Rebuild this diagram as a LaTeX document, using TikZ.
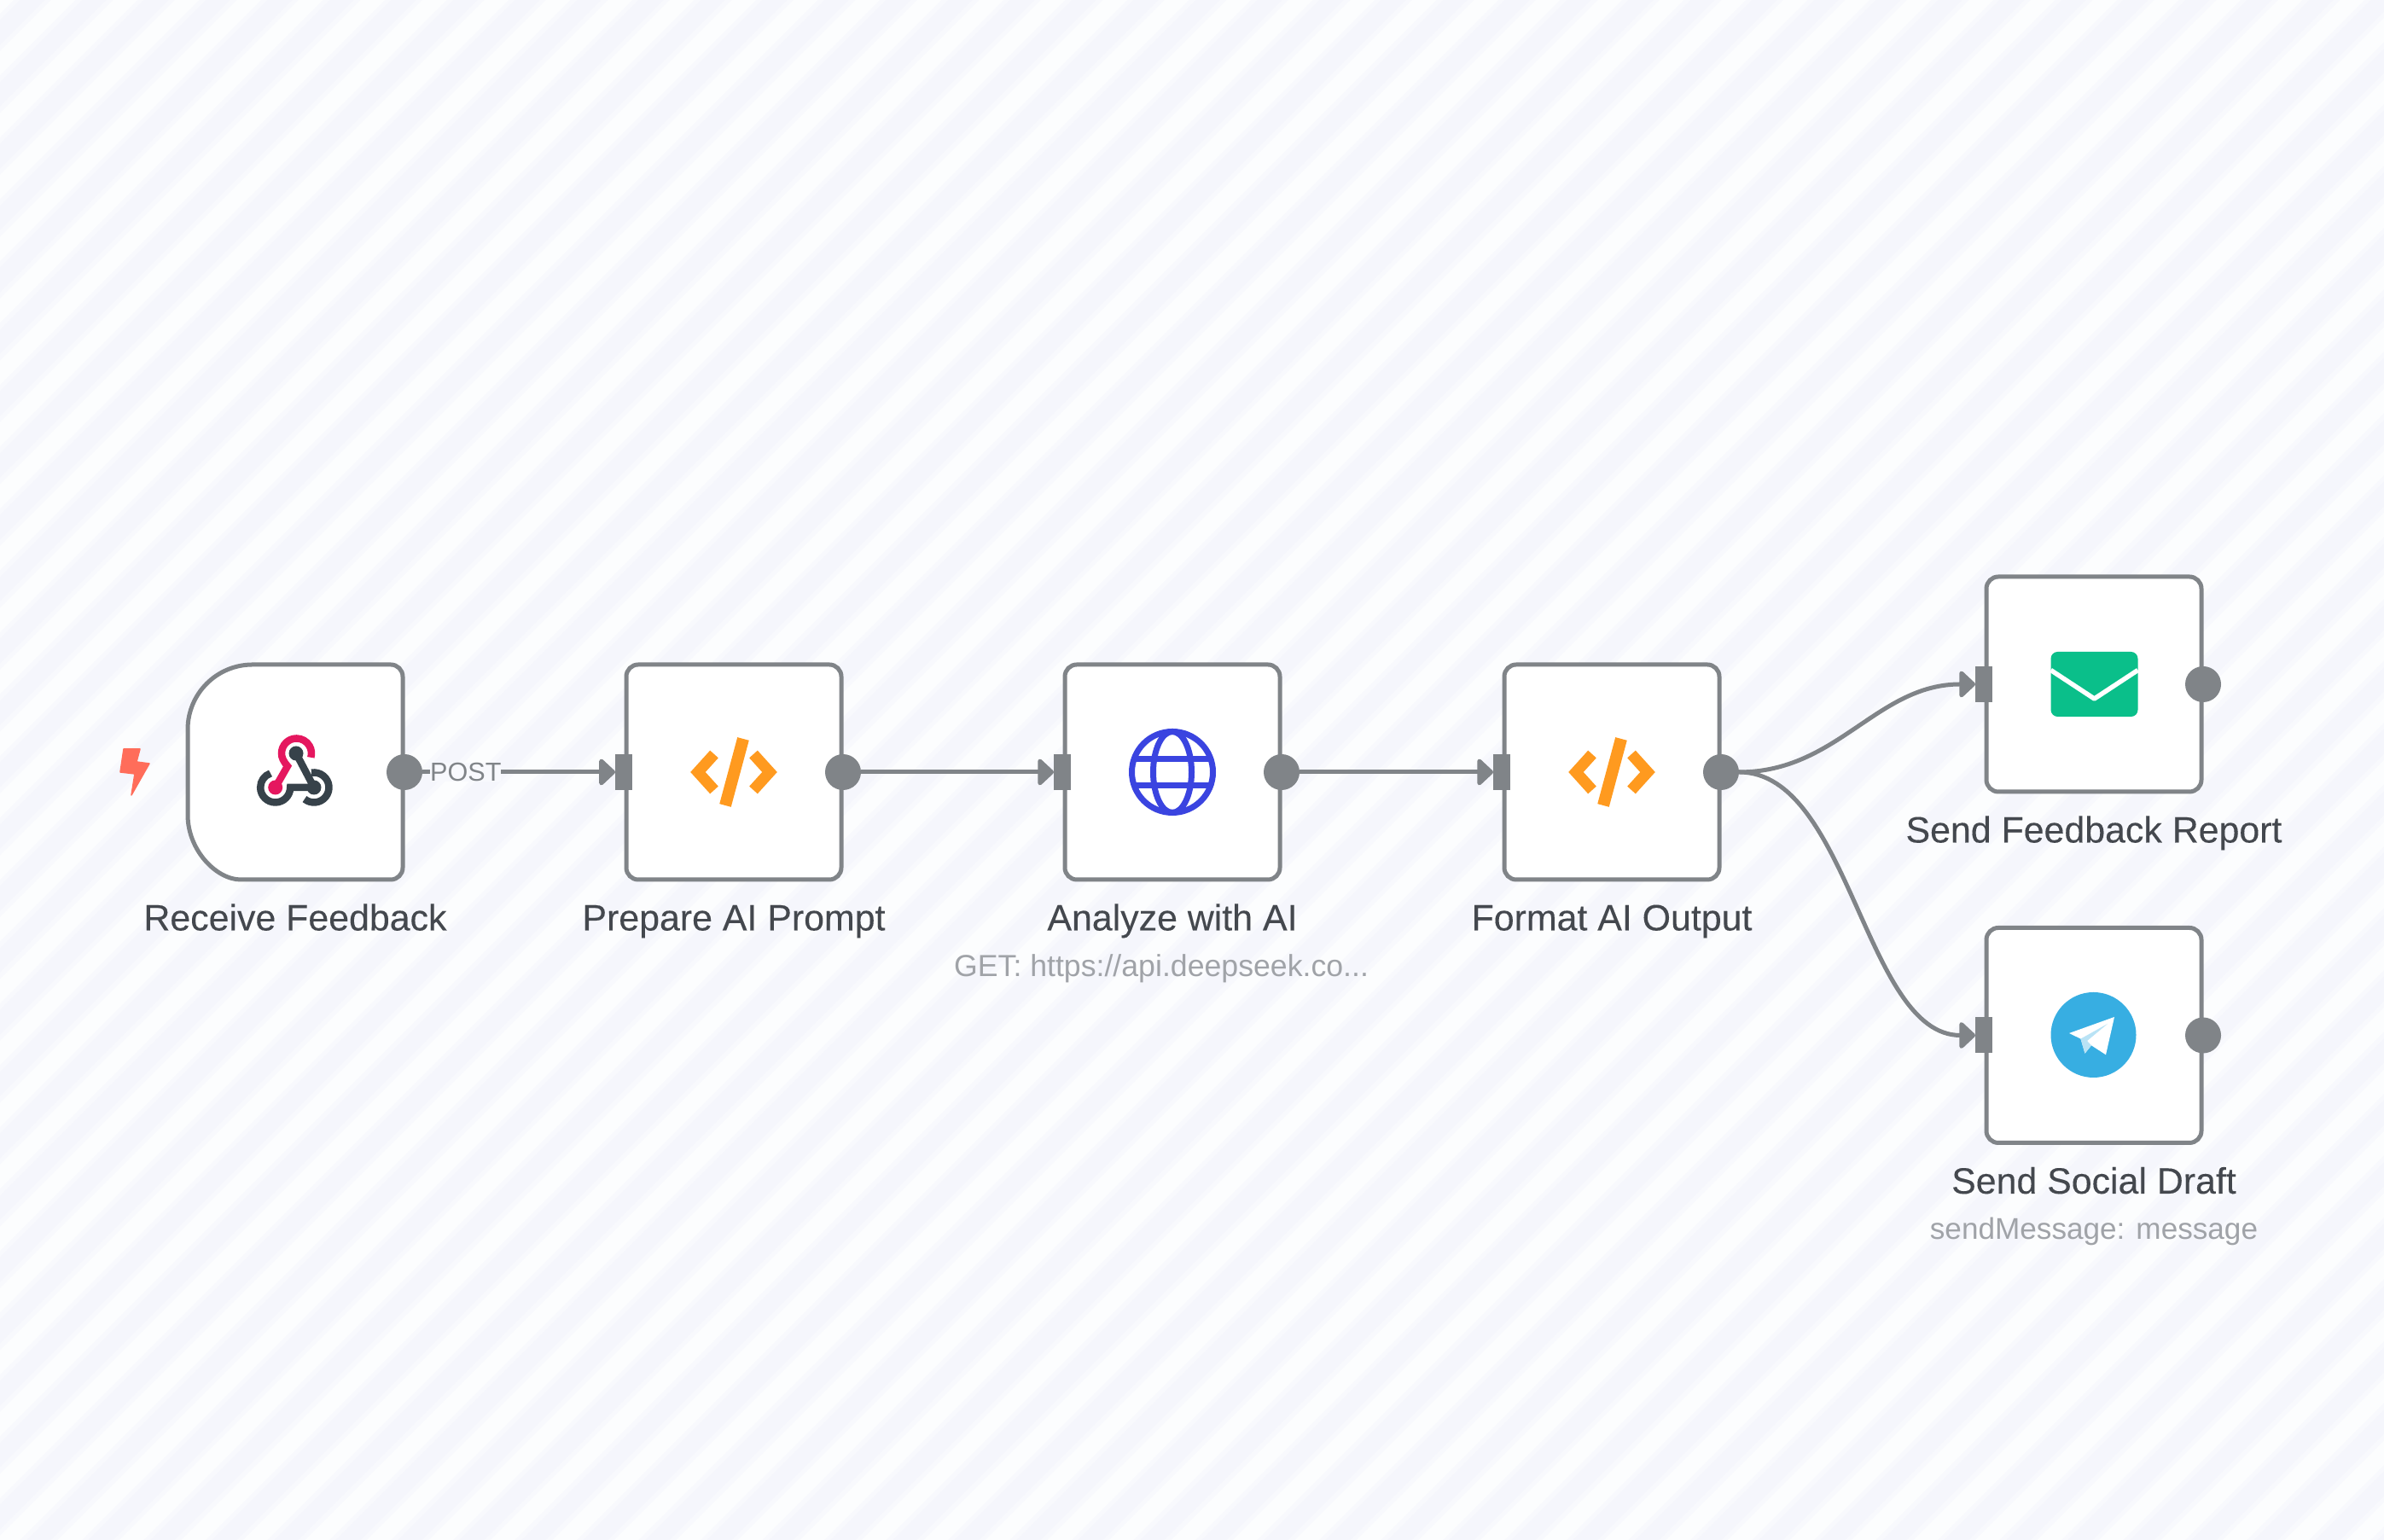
\documentclass[tikz,border=0pt]{standalone}
\usepackage{fontspec}
\setmainfont{Liberation Sans}
\newfontfamily\namefont[FakeBold=0.15]{Liberation Sans}
\usetikzlibrary{arrows.meta}
\definecolor{canvas}{HTML}{FCFDFE}
\definecolor{stripesoft}{HTML}{F8F9FD}
\definecolor{stripe}{HTML}{F5F6FC}
\definecolor{rim}{HTML}{808488}
\definecolor{title}{HTML}{44484E}
\definecolor{subtitle}{HTML}{A0A3A8}
\definecolor{codeorange}{HTML}{FF9A1F}
\definecolor{hookpink}{HTML}{E5175F}
\definecolor{hookdark}{HTML}{37424A}
\definecolor{boltred}{HTML}{FF6D5A}
\definecolor{globeblue}{HTML}{3A44E0}
\definecolor{mailgreen}{HTML}{0ABF8A}
\definecolor{planeblue}{HTML}{37AEE2}
\tikzset{
  nodebox/.style={shape=rectangle,draw=rim,fill=white,line width=.05cm,rounded corners=.14cm,minimum size=2.52cm,inner sep=0pt,outer sep=0pt},
  blankbox/.style={shape=rectangle,minimum size=2.52cm,inner sep=0pt,outer sep=0pt},
  outdot/.style={shape=circle,fill=rim,minimum size=.42cm,inner sep=0pt,outer sep=0pt},
  inport/.style={shape=rectangle,fill=rim,minimum width=.2cm,minimum height=.42cm,inner sep=0pt,outer sep=0pt},
  wire/.style={draw=rim,line width=.05cm,-{Triangle[length=.2cm,width=.36cm,round]}},
  nametext/.style={anchor=base,text=title,font=\namefont\fontsize{12.2pt}{14pt}\selectfont},
  subtext/.style={anchor=base,text=subtitle,font=\fontsize{10.15pt}{12pt}\selectfont},
  wiretext/.style={fill=stripesoft,text=rim,inner sep=0pt,font=\fontsize{8.7pt}{10pt}\selectfont},
  codeline/.style={draw=codeorange,line width=.13cm,line join=miter},
  hookline/.style={line width=.085cm}
}
\begin{document}
\begin{tikzpicture}
\useasboundingbox (0,0) rectangle (27.94,18.05);
% background
\fill[canvas] (0,0) rectangle (27.94,18.05);
\begin{scope}
\clip (0,0) rectangle (27.94,18.05);
\foreach \x in {.38,1.105,...,46.6} {
  \draw[stripesoft,line width=.31cm] (\x+1,19.05) -- (\x-19.05,-1);
  \draw[stripe,line width=.2cm] (\x+1,19.05) -- (\x-19.05,-1);
}
\end{scope}
% boxes
\node[blankbox] at (3.46,9) (n1) {};
\draw[draw=rim,fill=white,line width=.05cm] (n1.east) [rounded corners=.14cm] -- (n1.south east) -- ([xshift=.76cm]n1.south west) [sharp corners] arc[start angle=270,end angle=180,radius=.76cm] -- ([yshift=-.76cm]n1.north west) arc[start angle=180,end angle=90,radius=.76cm] [rounded corners=.14cm] -- (n1.north east) -- cycle;
\node[nodebox] at (8.6,9) (n2) {};
\node[nodebox] at (13.74,9) (n3) {};
\node[nodebox] at (18.89,9) (n4) {};
\node[nodebox] at (24.54,10.03) (n5) {};
\node[nodebox] at (24.54,5.915) (n6) {};
% ports
\node[outdot] at ([xshift=.02cm]n1.east) (o1) {};
\node[outdot] at ([xshift=.02cm]n2.east) (o2) {};
\node[outdot] at ([xshift=.02cm]n3.east) (o3) {};
\node[outdot] at ([xshift=.02cm]n4.east) (o4) {};
\node[outdot] at ([xshift=.02cm]n5.east) (o5) {};
\node[outdot] at ([xshift=.02cm]n6.east) (o6) {};
\node[inport] at ([xshift=-.03cm]n2.west) (i2) {};
\node[inport] at ([xshift=-.03cm]n3.west) (i3) {};
\node[inport] at ([xshift=-.03cm]n4.west) (i4) {};
\node[inport] at ([xshift=-.03cm]n5.west) (i5) {};
\node[inport] at ([xshift=-.03cm]n6.west) (i6) {};
% wires
\draw[wire] (o1) -- node[wiretext,pos=.225] (post) {POST} (i2);
\draw[wire] (o2) -- (i3);
\draw[wire] (o3) -- (i4);
\draw[wire] (o4) to [out=0,in=180] (i5);
\draw[wire] (o4) to [out=0,in=180,looseness=.8] (i6);
% labels
\node[nametext] at (3.46,7.145) (t1) {Receive Feedback};
\node[nametext] at (8.6,7.145) (t2) {Prepare AI Prompt};
\node[nametext] at (13.74,7.145) (t3) {Analyze with AI};
\node[nametext] at (18.89,7.145) (t4) {Format AI Output};
\node[nametext] at (24.54,8.175) (t5) {Send Feedback Report};
\node[nametext] at (24.54,4.06) (t6) {Send Social Draft};
\node[subtext] at (13.61,6.605) (s3) {GET: https://api.deepseek.co...};
\node[subtext,font=\fontsize{10pt}{12pt}\selectfont] at (24.54,3.525) (s6) {sendMessage: message};
% trigger bolt
\fill[boltred,draw=boltred,line width=.015cm,line join=round] (1.45,9.27) -- (1.64,9.27) -- (1.60,9.12) -- (1.75,9.10) -- (1.54,8.73) -- (1.58,8.98) -- (1.41,9.00) -- cycle;
% webhook icon
\draw[hookdark,hookline] (3.68,8.82) -- (3.402,8.82) arc[start angle=0,end angle=-251,radius=.175];
\draw[hookdark,hookline] (3.47,9.22) -- (3.68,8.82);
\draw[hookdark,hookline] (3.68,8.82) ++(231:.175) arc[start angle=231,end angle=460,radius=.175];
\draw[hookpink,hookline] (3.227,8.82) -- (3.37,9.07) .. controls (3.32,9.13) and (3.30,9.17) .. (3.30,9.22) arc[start angle=180,end angle=-16,radius=.175];
\fill[hookdark] (3.47,9.22) circle (.085);
\fill[hookdark] (3.68,8.82) circle (.085);
\fill[hookpink] (3.227,8.82) circle (.085);
% code icons
\draw[codeline] (8.37,9.21) -- (8.18,9) -- (8.37,8.79);
\draw[codeline] (8.83,9.21) -- (9.02,9) -- (8.83,8.79);
\draw[codeorange,line width=.14cm] (8.71,9.39) -- (8.5,8.61);
\draw[codeline] (18.66,9.21) -- (18.47,9) -- (18.66,8.79);
\draw[codeline] (19.12,9.21) -- (19.31,9) -- (19.12,8.79);
\draw[codeorange,line width=.14cm] (19,9.39) -- (18.79,8.61);
% globe icon
\draw[globeblue,line width=.07cm] (13.74,9) circle (.475);
\draw[globeblue,line width=.07cm] (13.74,9) ellipse (.225 and .475);
\draw[globeblue,line width=.07cm] (13.29,9.157) -- (14.19,9.157);
\draw[globeblue,line width=.07cm] (13.29,8.843) -- (14.19,8.843);
% mail icon
\fill[mailgreen,rounded corners=.08cm] (24.035,9.65) rectangle (25.055,10.41);
\draw[white,line width=.055cm,line join=round] (24.035,10.195) -- (24.545,9.86) -- (25.055,10.195);
% telegram icon
\fill[planeblue] (24.535,5.92) circle (.5);
\fill[white,line join=round] (24.78,6.13) -- (24.25,5.94) -- (24.385,5.874) -- (24.435,5.704) -- (24.51,5.797) -- (24.68,5.687) -- cycle;
\fill[planeblue!35!white] (24.385,5.874) -- (24.435,5.704) -- (24.51,5.797) -- (24.46,5.85) -- (24.7,6.05) -- cycle;
\end{tikzpicture}
\end{document}
